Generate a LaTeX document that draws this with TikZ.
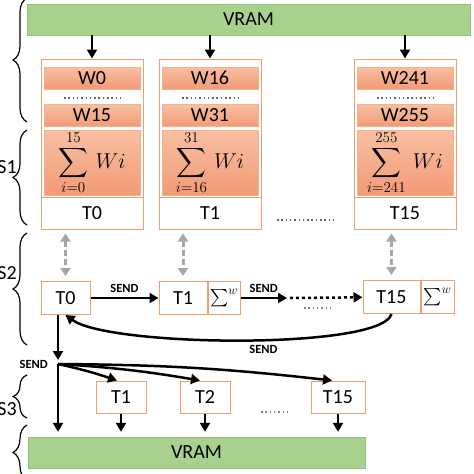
\RequirePackage{fix-cm}
\documentclass[tikz,border=0pt]{standalone}
\usepackage{amsmath}
\usepackage{fontspec}
\setmainfont{Carlito}
\usetikzlibrary{arrows.meta,positioning,calc,decorations.pathreplacing}
\definecolor{vram}{HTML}{A9D18E}
\definecolor{vramln}{HTML}{94C27A}
\definecolor{wtop}{HTML}{F8C0A2}
\definecolor{wbot}{HTML}{F29A76}
\definecolor{tln}{HTML}{EE9F70}
\definecolor{syncgray}{HTML}{A6A6A6}
\tikzset{
  vrambar/.style={draw=vramln, fill=vram, minimum height=31pt, inner sep=0pt, font=\fontsize{20}{24}\selectfont},
  colbox/.style={draw=tln, line width=1pt, minimum width=102pt, minimum height=170pt, inner sep=0pt},
  wbox/.style={draw=tln!80, top color=wtop, bottom color=wbot, minimum width=96pt, minimum height=22pt, inner sep=0pt, font=\fontsize{20}{24}\selectfont},
  sumbox/.style={wbox, minimum height=59pt, font=\fontsize{21.5}{24}\selectfont},
  tbox/.style={draw=tln, line width=1pt, fill=white, minimum height=33pt, inner sep=0pt, font=\fontsize{20}{24}\selectfont},
  tlabel/.style={font=\fontsize{20}{24}\selectfont},
  send/.style={line width=2.5pt, -{Triangle[length=9pt,width=10pt]}},
  synca/.style={draw=syncgray, line width=3pt, dash pattern=on 6pt off 3pt, {Triangle[length=8pt,width=10pt]}-{Triangle[length=8pt,width=10pt]}},
  sendlbl/.style={font=\bfseries\fontsize{12.5}{14}\selectfont, inner sep=1pt},
  dotrow/.style={line width=1.5pt, dash pattern=on 1.5pt off 2.8pt, gray!80!black},
  stage/.style={decorate, decoration={brace, amplitude=14pt}, line width=1.2pt},
  stagelbl/.style={font=\fontsize{20}{24}\selectfont, anchor=east, inner sep=0pt},
}
\begin{document}
\begin{tikzpicture}[x=1pt,y=-1pt]
  \useasboundingbox (0,0) rectangle (474,474);

  % VRAM on top
  \node[vrambar, minimum width=443pt] (vramtop) at (248.5,19.5) {VRAM};

  % thread blocks (S1)
  \foreach \n/\cx/\wa/\wb/\tl in {1/92/0/15/T0, 2/210/16/31/T1, 3/405/241/255/T15}{
    \node[colbox] (col\n) at (\cx,144) {};
    \node[wbox] (wa\n) at (\cx,78) {W\wa};
    \node[wbox] (wb\n) at (\cx,115.5) {W\wb};
    \node[sumbox] (sum\n) at (\cx,162.5) {$\displaystyle\sum_{i=\wa}^{\wb}\, Wi$};
    \draw[tln, line width=1pt] (\cx-51,197) -- (\cx+51,197);
    \node[tlabel] (tl\n) at (\cx,213) {\tl};
    \draw[dotrow] (\cx-28,98) -- (\cx+28,98);
    \draw[send] (vramtop.south -| col\n.north) -- (col\n.north);
  }
  \draw[dotrow] (277,220) -- (334,220);

  % reduction row (S2)
  \node[tbox, minimum width=49pt] (s2t0) at (65.5,298) {T0};
  \node[tbox, minimum width=48pt] (s2t1) at (183,298) {T1};
  \node[tbox, minimum width=32pt, right=0pt of s2t1, font=\fontsize{18}{20}\selectfont] (s2w1) {$\sum^{w}$};
  \node[tbox, minimum width=57pt] (s2t15) at (391.5,297) {T15};
  \node[tbox, minimum width=33pt, right=0pt of s2t15, font=\fontsize{18}{20}\selectfont] (s2w15) {$\sum^{w}$};

  \draw[synca, shorten <=4pt, shorten >=5pt] (s2t0.north |- col1.south) -- (s2t0.north);
  \draw[synca, shorten <=4pt, shorten >=5pt] (s2t1.north |- col2.south) -- (s2t1.north);
  \draw[synca, shorten <=4pt, shorten >=5pt] (s2t15.north |- col3.south) -- (s2t15.north);

  \coordinate (gap) at (287,298);
  \draw[send] (s2t0) -- node[sendlbl, above=3pt] {SEND} (s2t1);
  \draw[send] (s2w1) -- node[sendlbl, above=3pt] {SEND} (gap);
  \draw[send, dash pattern=on 3pt off 3pt] ([xshift=3pt]gap) -- (s2t15);
  \draw[dotrow, gray] (304,308) -- (331,308);
  \draw[send] (s2t15.south) .. controls +(-10,36) and +(44,32) .. node[sendlbl, pos=0.45, below=3pt] {SEND} (s2t0.south);

  % broadcast (S3)
  \coordinate (fan) at (58,364);
  \draw[send] (s2t0.south -| fan) -- ([yshift=4pt]fan);
  \node[sendlbl, left=9pt of fan] (fanlbl) {SEND};

  \node[tbox, minimum width=50pt, minimum height=32pt] (s3t1) at (121,397) {T1};
  \node[tbox, minimum width=50pt, minimum height=32pt] (s3t2) at (205,397) {T2};
  \node[tbox, minimum width=54pt, minimum height=32pt] (s3t15) at (338,397) {T15};
  \draw[dotrow, gray] (261,412) -- (287,412);

  \draw[send] (fan) to[bend left=3] ([xshift=-4pt]s3t1.north);
  \draw[send] (fan) to[bend left=3] ([xshift=-5pt]s3t2.north);
  \draw[send] (fan) to[bend left=3] ([xshift=-6pt]s3t15.north);

  % VRAM at bottom
  \node[vrambar, minimum width=337pt] (vrambot) at (196.5,452.5) {VRAM};
  \draw[send, shorten >=5pt] (fan) -- (fan |- vrambot.north);
  \draw[send, shorten >=5pt] (s3t1) -- (s3t1 |- vrambot.north);
  \draw[send, shorten >=5pt] (s3t2) -- (s3t2 |- vrambot.north);
  \draw[send, shorten >=5pt] (s3t15) -- (s3t15 |- vrambot.north);

  % stages
  \draw[stage] (27,122) -- (27,-2);
  \draw[stage] (27,225) -- (27,130);
  \node[stagelbl] (lbls1) at (17,167) {S1};
  \draw[stage] (27,345) -- (27,233);
  \node[stagelbl] (lbls2) at (17,273) {S2};
  \draw[stage] (27,418) -- (27,375);
  \node[stagelbl] (lbls3) at (17,409) {S3};
  \draw[stage] (27,480) -- (27,425);
\end{tikzpicture}
\end{document}
